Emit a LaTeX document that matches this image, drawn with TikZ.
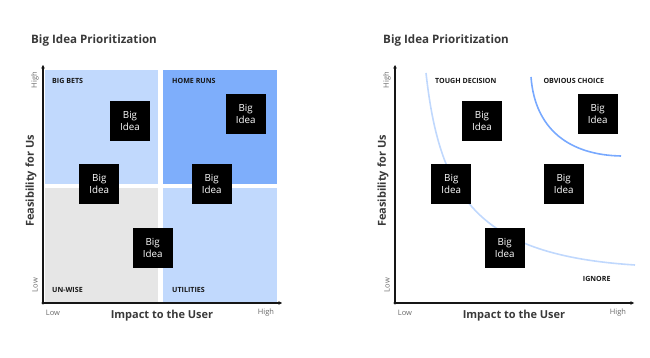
\documentclass[tikz,border=0pt]{standalone}
\usepackage{fontspec}
\setmainfont{Open Sans}
\usetikzlibrary{arrows.meta}

\definecolor{bluelight}{RGB}{193,217,253}
\definecolor{bluemid}{RGB}{126,174,251}
\definecolor{greyzone}{RGB}{230,230,230}
\definecolor{curvelight}{RGB}{192,216,253}
\definecolor{curvedark}{RGB}{120,169,255}
\definecolor{inkdark}{RGB}{22,22,22}
\definecolor{titlegrey}{RGB}{57,57,57}
\definecolor{tickgrey}{RGB}{105,105,105}

\tikzset{
  idea/.style={fill=black, text=white, minimum size=40pt, inner sep=0pt,
    align=center, font=\fontsize{9.8}{11.8}\selectfont},
  zone/.style={anchor=west, inner sep=0pt, text=inkdark,
    font=\bfseries\fontsize{7.1}{8}\selectfont},
  axis/.style={line width=1.3pt, draw=inkdark, -{Stealth[length=3.5pt,width=3.5pt]}},
  ticktext/.style={inner sep=0pt, text=tickgrey, font=\fontsize{7.5}{9}\selectfont},
  axistitle/.style={inner sep=0pt, text=titlegrey, font=\bfseries\fontsize{11}{13}\selectfont},
  charttitle/.style={anchor=west, inner sep=0pt, text=titlegrey, font=\bfseries\fontsize{11.6}{13}\selectfont},
}

\begin{document}
\begin{tikzpicture}[x=1pt,y=-1pt]
\useasboundingbox (0,0) rectangle (650,358);

% === LEFT PANEL: four quadrants ===
\begin{scope}
    \node[charttitle] (ltitle) at (31,40.5) {Big Idea Prioritization};

    % Quadrant fills
    \fill[bluelight] (45,70) rectangle (158,184);
    \fill[bluemid] (163,70) rectangle (277,184);
    \fill[greyzone] (45,188) rectangle (158,302);
    \fill[bluelight] (163,188) rectangle (277,302);

    % Quadrant names
    \node[zone] (lbets) at (52,81) {BIG BETS};
    \node[zone] (lruns) at (172,81) {HOME RUNS};
    \node[zone] (lunwise) at (52,290) {UN-WISE};
    \node[zone] (lutil) at (172,290) {UTILITIES};

    % Axes
    \coordinate (lorig) at (43,303);
    \coordinate (ltop) at (43,65);
    \coordinate (lright) at (282,303);
    \draw[axis] (lorig) -- (ltop);
    \draw[axis] (lorig) -- (lright);
    \fill[inkdark] (lorig) circle (1.6);

    \node[ticktext,rotate=90] (lyhigh) at (35,80) {High};
    \node[ticktext,rotate=90] (lylow) at (35,285) {Low};
    \node[ticktext] (lxlow) at (53,313) {Low};
    \node[ticktext] (lxhigh) at (266,313) {High};
    \node[axistitle,rotate=90] (lfeas) at (31,181) {Feasibility for Us};
    \node[axistitle] (limpact) at (162,316) {Impact to the User};

    % Ideas
    \foreach \i/\x/\y in {1/130/121, 2/245.7/114, 3/99.3/184.3, 4/211.7/184.3, 5/152.7/248.3}
        \node[idea] (lidea\i) at (\x,\y) {Big\\Idea};
\end{scope}

% === RIGHT PANEL: decision curves ===
\begin{scope}[shift={(352,0)}]
    \node[charttitle] (rtitle) at (31,40.5) {Big Idea Prioritization};

    % Boundary curves
    \draw[curvelight,line width=1.6pt] (74,73) .. controls (88,200) and (128,255) .. (283,265);
    \draw[curvedark,line width=1.6pt] (179,77) .. controls (183,130) and (218,155) .. (269,156);

    % Region names
    \node[zone] (rtough) at (83,81) {TOUGH DECISION};
    \node[zone] (robvious) at (191.3,81) {OBVIOUS CHOICE};
    \node[zone] (rignore) at (230.7,278.7) {IGNORE};

    % Axes
    \coordinate (rorig) at (43,303);
    \coordinate (rtop) at (43,65);
    \coordinate (rright) at (282,303);
    \draw[axis] (rorig) -- (rtop);
    \draw[axis] (rorig) -- (rright);
    \fill[inkdark] (rorig) circle (1.6);

    \node[ticktext,rotate=90] (ryhigh) at (35,80) {High};
    \node[ticktext,rotate=90] (rylow) at (35,285) {Low};
    \node[ticktext] (rxlow) at (53,313) {Low};
    \node[ticktext] (rxhigh) at (266,313) {High};
    \node[axistitle,rotate=90] (rfeas) at (31,181) {Feasibility for Us};
    \node[axistitle] (rimpact) at (162,316) {Impact to the User};

    % Ideas
    \foreach \i/\x/\y in {1/130/121, 2/245.7/114, 3/99.3/184.3, 4/211.7/184.3, 5/152.7/248.3}
        \node[idea] (ridea\i) at (\x,\y) {Big\\Idea};
\end{scope}

\end{tikzpicture}
\end{document}
